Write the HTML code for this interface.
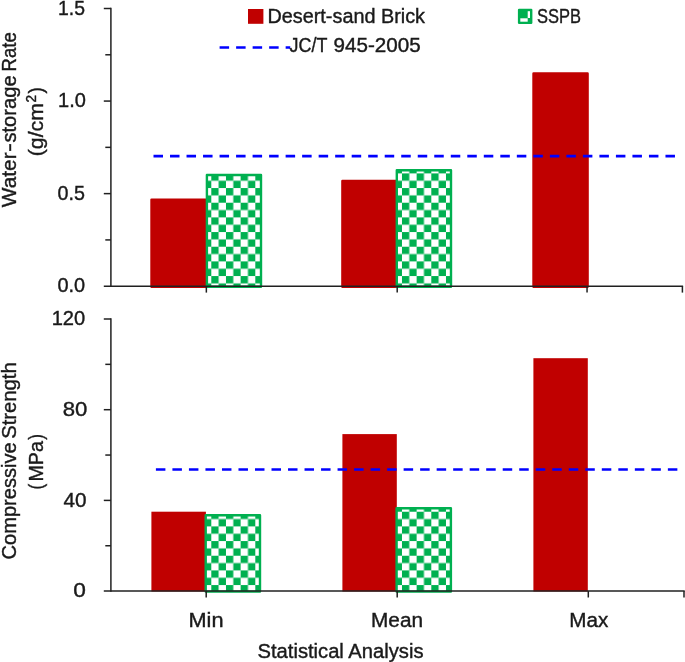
<!DOCTYPE html>
<html lang="en"><head><meta charset="utf-8"><title>Statistical Analysis chart</title>
<style>html,body{margin:0;padding:0;background:#fff}svg{display:block}text{font-family:"Liberation Sans", sans-serif;fill:#1a1a1a;stroke:#1a1a1a;stroke-width:0.4px}</style>
</head><body>
<svg width="685" height="662" viewBox="0 0 685 662">
<defs><pattern id="chk" patternUnits="userSpaceOnUse" x="5.96" y="12.06" width="14.667" height="14.667">
<rect width="14.667" height="14.667" fill="#fff"/>
<rect x="0" y="0" width="7.333" height="7.333" fill="#00B050"/>
<rect x="7.333" y="7.333" width="7.333" height="7.333" fill="#00B050"/>
</pattern>
<pattern id="chk2" patternUnits="userSpaceOnUse" x="5.96" y="13.06" width="14.667" height="14.667">
<rect width="14.667" height="14.667" fill="#fff"/>
<rect x="0" y="0" width="7.333" height="7.333" fill="#00B050"/>
<rect x="7.333" y="7.333" width="7.333" height="7.333" fill="#00B050"/>
</pattern></defs>
<rect width="685" height="662" fill="#fff"/>
<rect x="151.50" y="199.60" width="54.10" height="87.10" fill="#C00000" stroke="#C00000" stroke-width="2.40" stroke-linejoin="round"/>
<rect x="206.90" y="175.00" width="54.10" height="111.70" fill="url(#chk)" stroke="#00B050" stroke-width="2.40" stroke-linejoin="round"/>
<rect x="342.40" y="180.90" width="54.10" height="105.80" fill="#C00000" stroke="#C00000" stroke-width="2.40" stroke-linejoin="round"/>
<rect x="396.80" y="170.30" width="54.20" height="116.40" fill="url(#chk)" stroke="#00B050" stroke-width="2.40" stroke-linejoin="round"/>
<rect x="533.50" y="73.50" width="54.10" height="213.20" fill="#C00000" stroke="#C00000" stroke-width="2.40" stroke-linejoin="round"/>
<rect x="151.40" y="511.70" width="54.50" height="79.80" fill="#C00000"/>
<rect x="205.70" y="515.20" width="54.30" height="76.40" fill="url(#chk2)" stroke="#00B050" stroke-width="2.40" stroke-linejoin="round"/>
<rect x="342.40" y="434.10" width="54.40" height="157.40" fill="#C00000"/>
<rect x="396.60" y="508.30" width="54.30" height="83.30" fill="url(#chk2)" stroke="#00B050" stroke-width="2.40" stroke-linejoin="round"/>
<rect x="533.40" y="358.20" width="54.40" height="233.30" fill="#C00000"/>
<g stroke="#202020" stroke-width="1.50" fill="none">
<line x1="110.90" y1="7.75" x2="110.90" y2="286.95" />
<line x1="103.80" y1="286.20" x2="683.10" y2="286.20" />
<line x1="103.80" y1="8.50" x2="110.90" y2="8.50" />
<line x1="105.30" y1="54.78" x2="110.90" y2="54.78" />
<line x1="103.80" y1="101.07" x2="110.90" y2="101.07" />
<line x1="105.30" y1="147.35" x2="110.90" y2="147.35" />
<line x1="103.80" y1="193.63" x2="110.90" y2="193.63" />
<line x1="105.30" y1="239.92" x2="110.90" y2="239.92" />
<line x1="206.35" y1="286.20" x2="206.35" y2="292.60" />
<line x1="397.20" y1="286.20" x2="397.20" y2="292.60" />
<line x1="587.05" y1="286.20" x2="587.05" y2="292.60" />
<line x1="682.40" y1="286.20" x2="682.40" y2="292.60" />
<line x1="110.90" y1="318.25" x2="110.90" y2="591.85" />
<line x1="103.80" y1="591.10" x2="684.70" y2="591.10" />
<line x1="103.80" y1="319.00" x2="110.90" y2="319.00" />
<line x1="105.30" y1="364.35" x2="110.90" y2="364.35" />
<line x1="103.80" y1="409.70" x2="110.90" y2="409.70" />
<line x1="105.30" y1="455.05" x2="110.90" y2="455.05" />
<line x1="103.80" y1="500.40" x2="110.90" y2="500.40" />
<line x1="105.30" y1="545.75" x2="110.90" y2="545.75" />
<line x1="206.20" y1="591.10" x2="206.20" y2="597.50" />
<line x1="397.20" y1="591.10" x2="397.20" y2="597.50" />
<line x1="588.30" y1="591.10" x2="588.30" y2="597.50" />
<line x1="684.00" y1="591.10" x2="684.00" y2="597.50" />
</g>
<g stroke="#0000FF" stroke-width="2.667" stroke-dasharray="9.500 7.015" fill="none">
<line x1="153.50" y1="156.05" x2="675.20" y2="156.05" />
<line x1="155.90" y1="469.50" x2="677.40" y2="469.50" />
<line x1="219.60" y1="47.50" x2="290.30" y2="47.50" />
</g>
<rect x="248" y="9" width="15.4" height="14.8" fill="#C00000"/>
<rect x="517.9" y="8.7" width="14.5" height="15.3" rx="1.2" fill="#00B050"/>
<rect x="527.7" y="11.2" width="2.3" height="6.8" fill="#fff"/>
<rect x="520.3" y="18.3" width="7.4" height="3.4" fill="#fff"/>
<text x="267.50" y="22.60" font-size="20.00" text-anchor="start" textLength="157.50" lengthAdjust="spacingAndGlyphs" >Desert-sand Brick</text>
<text x="537.00" y="22.60" font-size="20.00" text-anchor="start" textLength="44.00" lengthAdjust="spacingAndGlyphs" >SSPB</text>
<text y="51.8" font-size="20"><tspan x="289.6" textLength="37.4" lengthAdjust="spacingAndGlyphs">JC/T</tspan> <tspan x="333.5" textLength="87.2" lengthAdjust="spacingAndGlyphs">945-2005</tspan></text>
<text x="206.00" y="627.00" font-size="20.00" text-anchor="middle" textLength="35.00" lengthAdjust="spacingAndGlyphs" >Min</text>
<text x="397.00" y="627.00" font-size="20.00" text-anchor="middle" textLength="52.00" lengthAdjust="spacingAndGlyphs" >Mean</text>
<text x="588.80" y="627.00" font-size="20.00" text-anchor="middle" textLength="39.00" lengthAdjust="spacingAndGlyphs" >Max</text>
<text x="340.50" y="657.80" font-size="20.00" text-anchor="middle" textLength="166.00" lengthAdjust="spacingAndGlyphs" >Statistical Analysis</text>
<text x="58.00" y="14.58" font-size="20.80" text-anchor="start" textLength="26.97" lengthAdjust="spacingAndGlyphs" >1.5</text>
<text x="58.02" y="107.30" font-size="20.80" text-anchor="start" textLength="27.84" lengthAdjust="spacingAndGlyphs" >1.0</text>
<text x="57.51" y="200.30" font-size="20.80" text-anchor="start" textLength="27.40" lengthAdjust="spacingAndGlyphs" >0.5</text>
<text x="57.51" y="292.20" font-size="20.80" text-anchor="start" textLength="27.71" lengthAdjust="spacingAndGlyphs" >0.0</text>
<text x="51.66" y="325.30" font-size="20.80" text-anchor="start" textLength="33.59" lengthAdjust="spacingAndGlyphs" >120</text>
<text x="62.68" y="415.81" font-size="20.80" text-anchor="start" textLength="24.65" lengthAdjust="spacingAndGlyphs" >80</text>
<text x="63.40" y="507.30" font-size="20.80" text-anchor="start" textLength="23.07" lengthAdjust="spacingAndGlyphs" >40</text>
<text x="73.31" y="597.30" font-size="20.80" text-anchor="start" textLength="12.63" lengthAdjust="spacingAndGlyphs" >0</text>
<text transform="translate(16.00 207.00) rotate(-90)" font-size="20.00"><tspan x="-0.20" textLength="54.80" lengthAdjust="spacingAndGlyphs">Water</tspan><tspan x="55.00" textLength="8.90" lengthAdjust="spacingAndGlyphs">-</tspan><tspan x="64.40" textLength="67.20" lengthAdjust="spacingAndGlyphs">storage</tspan> <tspan x="135.60" textLength="39.10" lengthAdjust="spacingAndGlyphs">Rate</tspan></text>
<text transform="translate(42.7 155.0) rotate(-90)" font-size="20"><tspan x="-1.2" textLength="53" lengthAdjust="spacingAndGlyphs">(g/cm</tspan><tspan x="52.6" dy="-6.6" font-size="14.5" textLength="7.6" lengthAdjust="spacingAndGlyphs">2</tspan><tspan x="61.5" dy="6.6" textLength="6.2" lengthAdjust="spacingAndGlyphs">)</tspan></text>
<text transform="translate(15.80 558.40) rotate(-90)" font-size="20.00"><tspan x="-1.00" textLength="117.00" lengthAdjust="spacingAndGlyphs">Compressive</tspan> <tspan x="119.60" textLength="76.50" lengthAdjust="spacingAndGlyphs">Strength</tspan></text>
<text transform="translate(42.80 488.50) rotate(-90)" font-size="20.00"><tspan x="-1.00" textLength="5.70" lengthAdjust="spacingAndGlyphs">(</tspan><tspan x="7.00" textLength="40.40" lengthAdjust="spacingAndGlyphs">MPa</tspan><tspan x="48.70" textLength="5.70" lengthAdjust="spacingAndGlyphs">)</tspan></text>
</svg>
</body></html>
